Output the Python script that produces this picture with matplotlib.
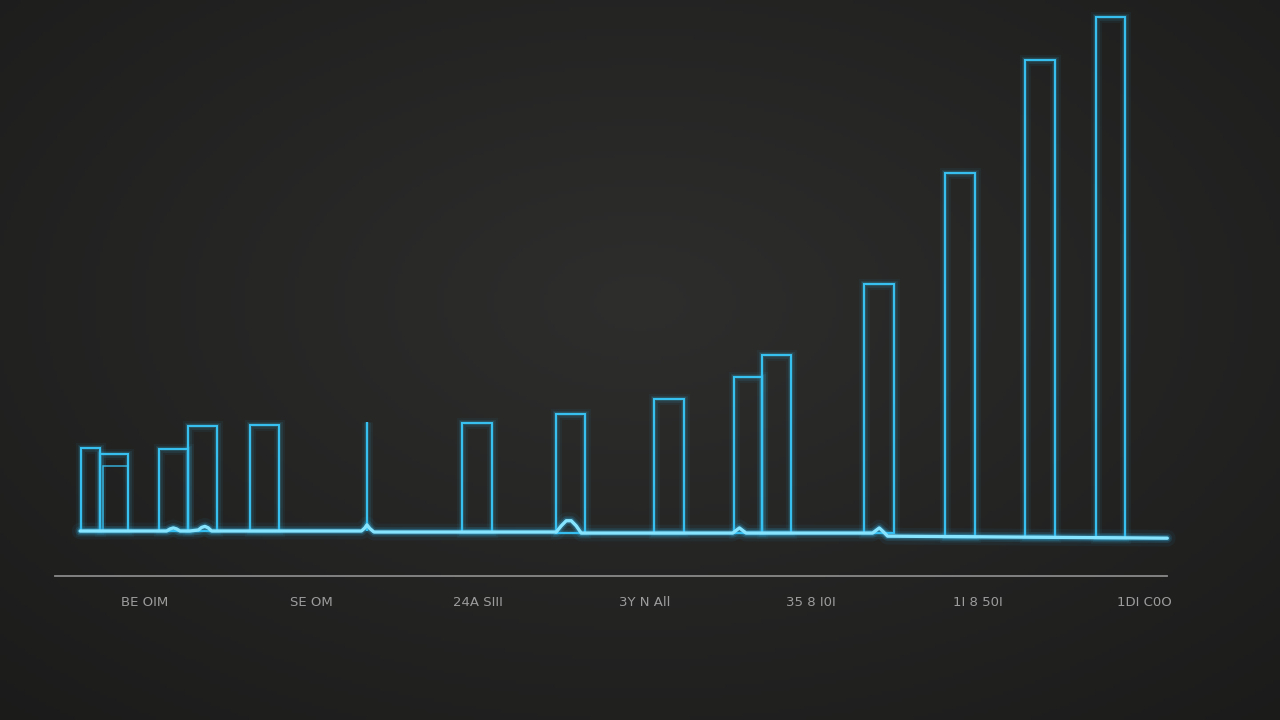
import numpy as np
import matplotlib
matplotlib.use("Agg")
import matplotlib.pyplot as plt

# tick labels (as printed on the chart) at positions 0..6
tick_labels = ["BE OIM", "SE OM", "24A SIII", "3Y N All", "35 8 I0I", "1I 8 50I", "1DI C0O"]

# bars: centre, width, top level
bar_x = [-0.327, -0.186, 0.171, 0.345, 0.718, 1.333, 1.994, 2.556, 3.147, 3.622, 3.793, 4.408, 4.895, 5.378, 5.799]
bar_w = [0.114, 0.168, 0.174, 0.174, 0.174, 0.004, 0.18, 0.174, 0.18, 0.168, 0.174, 0.18, 0.18, 0.18, 0.18]
bar_top = [16.0, 14.8, 15.8, 20.3, 20.5, 21.1, 20.9, 22.6, 25.5, 29.8, 34.1, 48.0, 69.6, 91.6, 100.0]

# inner outline inside the second bar
inner_x = [-0.177]
inner_w = [0.15]
inner_top = [12.5]

# floor level the bars stand on
level_x = [-0.39, 1.3, 2.45, 4.44, 4.48, 6.14]
level_y = [-0.2, -0.2, -0.5, -0.6, -1.2, -1.6]

# glowing baseline with its small bumps
base_x = [-0.39, 0.13, 0.15, 0.17, 0.19, 0.21, 0.27, 0.32, 0.34, 0.36, 0.38, 0.40,
          1.30, 1.32, 1.333, 1.35, 1.375,
          2.47, 2.50, 2.53, 2.56, 2.59, 2.62,
          3.53, 3.55, 3.57, 3.59, 3.61,
          4.37, 4.39, 4.41, 4.43, 4.46, 6.14]
base_y = [-0.2, -0.2, 0.2, 0.4, 0.2, -0.2, -0.2, 0.0, 0.5, 0.7, 0.4, -0.2,
          -0.2, 0.4, 1.0, 0.3, -0.4,
          -0.4, 0.8, 1.8, 1.8, 0.8, -0.6,
          -0.6, -0.1, 0.4, -0.1, -0.6,
          -0.6, -0.1, 0.4, -0.2, -1.2, -1.6]

W, H = 1280, 720
fig = plt.figure(figsize=(W / 100, H / 100), dpi=100)

# dark background with a soft vignette
bg = fig.add_axes([0, 0, 1, 1])
yy, xx = np.mgrid[0:1:200j, 0:1:360j]
r = np.sqrt(((xx - 0.5) / 0.75) ** 2 + ((yy - 0.42) / 0.8) ** 2)
shade = np.clip(0.18 - 0.075 * r, 0.095, 0.185)
bg.imshow(np.dstack([shade, shade, shade * 0.98]), aspect="auto", extent=[0, 1, 0, 1], origin="upper")
bg.axis("off")

ax = fig.add_axes([0, 0, 1, 1])
ax.patch.set_alpha(0)
ax.set_xlim(-0.871, 6.817)
ax.set_ylim(-37.04, 103.3)

cyan = "#38c4f4"
glow = [(8, 0.05), (5, 0.09), (3, 0.18)]

bottoms = np.interp(bar_x, level_x, level_y)
heights = np.array(bar_top) - bottoms
for lw, a in glow:
    ax.bar(bar_x, heights, width=bar_w, bottom=bottoms, fill=False, edgecolor=cyan, linewidth=lw, alpha=a)
ax.bar(bar_x, heights, width=bar_w, bottom=bottoms, fill=False, edgecolor=cyan, linewidth=1.4)

inner_b = np.interp(inner_x, level_x, level_y)
ax.bar(inner_x, np.array(inner_top) - inner_b, width=inner_w, bottom=inner_b, fill=False, edgecolor=cyan, linewidth=1.1, alpha=0.85)

# baseline
for lw, a in [(12, 0.06), (7, 0.13), (4.5, 0.28)]:
    ax.plot(base_x, base_y, color="#2fb8f0", linewidth=lw, alpha=a, solid_capstyle="round", solid_joinstyle="round")
ax.plot(base_x, base_y, color="#86e4ff", linewidth=2.4, solid_capstyle="round", solid_joinstyle="round")

# axis
for s in ["top", "right", "left"]:
    ax.spines[s].set_visible(False)
ax.spines["bottom"].set_position(("data", -9.0))
ax.spines["bottom"].set_bounds(-0.54, 6.14)
ax.spines["bottom"].set_color("#8a8a8a")
ax.spines["bottom"].set_linewidth(1.3)
ax.set_yticks([])
ax.set_xticks(range(len(tick_labels)))
ax.set_xticklabels(tick_labels, color="#9c9c9c", fontsize=9.5, family="DejaVu Sans")
ax.tick_params(axis="x", length=0, pad=14)

fig.savefig("out.png", dpi=100)
